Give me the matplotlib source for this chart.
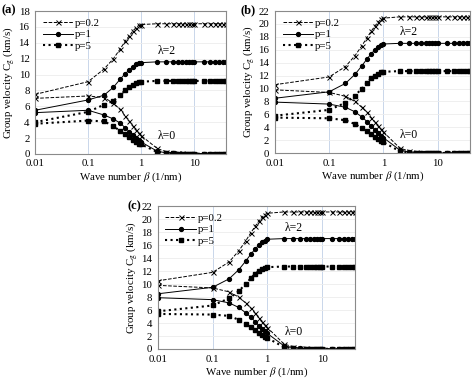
import matplotlib
matplotlib.use('Agg')
import matplotlib.pyplot as plt
from matplotlib.ticker import FixedLocator, FixedFormatter, NullLocator

plt.rcParams['font.family'] = ['Liberation Serif', 'DejaVu Serif']
plt.rcParams['mathtext.fontset'] = 'stix'

# wave number samples (1/nm)
beta = [0.01, 0.1, 0.2, 0.3, 0.4, 0.5, 0.6, 0.7, 0.8, 0.9, 1,
        2, 3, 4, 5, 6, 7, 8, 9, 10, 15, 20, 25, 30, 35, 40]

# panel (a): group velocity (km/s), lambda=2 (upper) and lambda=0 (lower)
a_p02_l2 = [7.5, 9.1, 10.7, 12.0, 13.2, 14.2, 14.9, 15.5, 15.9, 16.2, 16.3,
            16.4, 16.4, 16.4, 16.4, 16.4, 16.4, 16.4, 16.4, 16.4, 16.4, 16.4, 16.4, 16.4, 16.4, 16.4]
a_p02_l0 = [7.0, 7.3, 7.1, 6.4, 5.6, 4.8, 4.1, 3.5, 3.0, 2.6, 2.3,
            0.7, 0.25, 0.12, 0.08, 0.06, 0.05, 0.05, 0.05, 0.05, 0.05, 0.05, 0.05, 0.05, 0.05, 0.05]
a_p1_l2 = [5.5, 6.8, 7.4, 8.4, 9.4, 10.1, 10.6, 11.0, 11.3, 11.5, 11.5,
           11.6, 11.6, 11.6, 11.6, 11.6, 11.6, 11.6, 11.6, 11.6, 11.6, 11.6, 11.6, 11.6, 11.6, 11.6]
a_p1_l0 = [5.2, 5.5, 4.9, 4.4, 3.9, 3.3, 2.8, 2.4, 2.0, 1.7, 1.5,
           0.35, 0.12, 0.07, 0.05, 0.04, 0.04, 0.04, 0.04, 0.04, 0.04, 0.04, 0.04, 0.04, 0.04, 0.04]
a_p5_l2 = [4.0, 5.3, 6.2, 6.7, 7.4, 8.0, 8.4, 8.7, 8.9, 9.0, 9.1,
           9.2, 9.2, 9.2, 9.2, 9.2, 9.2, 9.2, 9.2, 9.2, 9.2, 9.2, 9.2, 9.2, 9.2, 9.2]
a_p5_l0 = [3.8, 4.2, 4.1, 3.5, 2.9, 2.5, 2.1, 1.8, 1.5, 1.3, 1.2,
           0.25, 0.1, 0.06, 0.04, 0.03, 0.03, 0.03, 0.03, 0.03, 0.03, 0.03, 0.03, 0.03, 0.03, 0.03]

# panel (b)
b_p02_l2 = [10.6, 11.8, 13.4, 15.1, 16.6, 17.9, 18.9, 19.7, 20.3, 20.7, 20.9,
            21.1, 21.1, 21.1, 21.1, 21.1, 21.1, 21.1, 21.1, 21.1, 21.1, 21.1, 21.1, 21.1, 21.1, 21.1]
b_p02_l0 = [9.8, 9.4, 8.8, 8.0, 7.1, 6.3, 5.5, 4.8, 4.2, 3.7, 3.3,
            0.8, 0.3, 0.12, 0.08, 0.06, 0.05, 0.05, 0.05, 0.05, 0.05, 0.05, 0.05, 0.05, 0.05, 0.05]
b_p1_l2 = [8.5, 9.5, 10.8, 12.2, 13.5, 14.6, 15.4, 16.0, 16.4, 16.7, 16.9,
           17.0, 17.0, 17.0, 17.0, 17.0, 17.0, 17.0, 17.0, 17.0, 17.0, 17.0, 17.0, 17.0, 17.0, 17.0]
b_p1_l0 = [7.9, 7.6, 7.1, 6.4, 5.6, 4.9, 4.2, 3.6, 3.1, 2.7, 2.4,
           0.5, 0.18, 0.08, 0.05, 0.04, 0.04, 0.04, 0.04, 0.04, 0.04, 0.04, 0.04, 0.04, 0.04, 0.04]
b_p5_l2 = [5.8, 6.7, 7.8, 8.9, 10.0, 10.9, 11.6, 12.0, 12.3, 12.5, 12.6,
           12.7, 12.7, 12.7, 12.7, 12.7, 12.7, 12.7, 12.7, 12.7, 12.7, 12.7, 12.7, 12.7, 12.7, 12.7]
b_p5_l0 = [5.5, 5.4, 5.1, 4.5, 3.9, 3.4, 2.9, 2.5, 2.2, 1.9, 1.7,
           0.3, 0.1, 0.06, 0.04, 0.03, 0.03, 0.03, 0.03, 0.03, 0.03, 0.03, 0.03, 0.03, 0.03, 0.03]

# panel (c)
c_p02_l2 = [10.5, 11.8, 13.4, 15.1, 16.6, 17.9, 18.9, 19.7, 20.3, 20.7, 20.9,
            21.1, 21.1, 21.1, 21.1, 21.1, 21.1, 21.1, 21.1, 21.1, 21.1, 21.1, 21.1, 21.1, 21.1, 21.1]
c_p02_l0 = [9.8, 9.4, 8.8, 8.0, 7.1, 6.3, 5.5, 4.8, 4.2, 3.7, 3.3,
            0.8, 0.3, 0.12, 0.08, 0.06, 0.05, 0.05, 0.05, 0.05, 0.05, 0.05, 0.05, 0.05, 0.05, 0.05]
c_p1_l2 = [8.5, 9.5, 10.8, 12.2, 13.5, 14.6, 15.4, 16.0, 16.4, 16.7, 16.9,
           17.0, 17.0, 17.0, 17.0, 17.0, 17.0, 17.0, 17.0, 17.0, 17.0, 17.0, 17.0, 17.0, 17.0, 17.0]
c_p1_l0 = [7.9, 7.6, 7.1, 6.4, 5.6, 4.9, 4.2, 3.6, 3.1, 2.7, 2.4,
           0.5, 0.18, 0.08, 0.05, 0.04, 0.04, 0.04, 0.04, 0.04, 0.04, 0.04, 0.04, 0.04, 0.04, 0.04]
c_p5_l2 = [5.8, 6.7, 7.8, 8.9, 10.0, 10.9, 11.6, 12.0, 12.3, 12.5, 12.6,
           12.7, 12.7, 12.7, 12.7, 12.7, 12.7, 12.7, 12.7, 12.7, 12.7, 12.7, 12.7, 12.7, 12.7, 12.7]
c_p5_l0 = [5.4, 5.3, 5.1, 4.5, 3.9, 3.4, 2.9, 2.5, 2.2, 1.9, 1.7,
           0.3, 0.1, 0.06, 0.04, 0.03, 0.03, 0.03, 0.03, 0.03, 0.03, 0.03, 0.03, 0.03, 0.03, 0.03]

xticks = [0.01, 0.1, 1, 10]
xticklabels = ['0.01', '0.1', '1', '10']
labels = ['p=0.2', 'p=1', 'p=5']

styles = [
    dict(ls='--', lw=0.7, marker='x', ms=3.6, mew=0.7),
    dict(ls='-', lw=0.7, marker='o', ms=2.8),
    dict(ls=':', lw=1.5, marker='s', ms=3.0),
]


def draw(ax, curves, ymax, lam2_y, lam0_y):
    for (up, low), st, lab in zip(curves, styles, labels):
        ax.plot(beta, up, color='black', label=lab, **st)
        ax.plot(beta, low, color='black', **st)
    ax.set_xscale('log')
    ax.set_xlim(0.01, 40)
    ax.set_ylim(0, ymax)
    ax.xaxis.set_major_locator(FixedLocator(xticks))
    ax.xaxis.set_major_formatter(FixedFormatter(xticklabels))
    ax.xaxis.set_minor_locator(NullLocator())
    ax.set_yticks(range(0, ymax + 1, 2))
    ax.tick_params(length=0, labelsize=7.8, pad=4)
    ax.grid(axis='x', color='#c9d6ea', lw=0.7)
    ax.grid(axis='y', color='#ededed', lw=0.6)
    ax.set_axisbelow(True)
    for s in ax.spines.values():
        s.set_color('#8a8a8a')
        s.set_linewidth(0.8)
    ax.set_xlabel(r'Wave number $\beta$ (1/nm)', fontsize=7.8, labelpad=1.5)
    ax.set_ylabel(r'Group velocity C$_\mathrm{g}$ (km/s)', fontsize=7.8, labelpad=1)
    ax.text(3.0, lam2_y, 'λ=2', fontsize=8.5, ha='center', va='center')
    ax.text(3.0, lam0_y, 'λ=0', fontsize=8.5, ha='center', va='center')
    ax.legend(loc='upper left', frameon=False, fontsize=7.8, handlelength=2.8,
              labelspacing=0.15, borderaxespad=0.4, handletextpad=0.2,
              borderpad=0.3)


fig = plt.figure(figsize=(4.74, 3.81), dpi=100)
ax_a = fig.add_axes([0.074, 0.596, 0.403, 0.375])
ax_b = fig.add_axes([0.580, 0.598, 0.412, 0.373])
ax_c = fig.add_axes([0.333, 0.084, 0.416, 0.375])

draw(ax_a, [(a_p02_l2, a_p02_l0), (a_p1_l2, a_p1_l0), (a_p5_l2, a_p5_l0)], 18, 13.0, 2.3)
draw(ax_b, [(b_p02_l2, b_p02_l0), (b_p1_l2, b_p1_l0), (b_p5_l2, b_p5_l0)], 22, 18.7, 2.8)
draw(ax_c, [(c_p02_l2, c_p02_l0), (c_p1_l2, c_p1_l0), (c_p5_l2, c_p5_l0)], 22, 18.6, 2.6)

fig.text(0.004, 0.972, '(a)', fontsize=9, fontweight='bold', va='center')
fig.text(0.507, 0.972, '(b)', fontsize=9, fontweight='bold', va='center')
fig.text(0.270, 0.459, '(c)', fontsize=9, fontweight='bold', va='center')

fig.savefig('out.png', dpi=100)
